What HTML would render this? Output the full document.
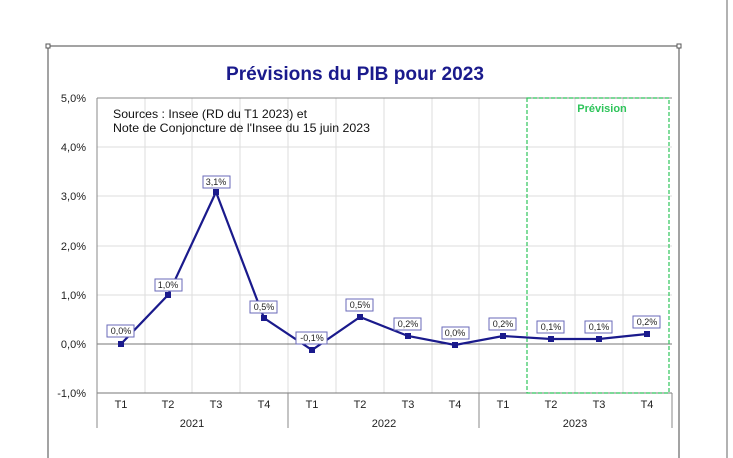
<!DOCTYPE html><html><head><style>body{margin:0;background:#fff}svg{display:block;font-family:"Liberation Sans",sans-serif}</style></head><body>
<svg width="733" height="458" viewBox="0 0 733 458">
<rect x="0" y="0" width="733" height="458" fill="#fff"/>
<line x1="727" y1="0" x2="727" y2="458" stroke="#999" stroke-width="1.5"/>
<rect x="48" y="46" width="631" height="420" fill="none" stroke="#666" stroke-width="1.2"/>
<rect x="46" y="44" width="4" height="4" fill="#fff" stroke="#555"/>
<rect x="677" y="44" width="4" height="4" fill="#fff" stroke="#555"/>
<text x="355" y="80" text-anchor="middle" font-size="19" font-weight="bold" fill="#1a1a8c" textLength="258" lengthAdjust="spacingAndGlyphs">Prévisions du PIB pour 2023</text>
<g stroke="#ddd" stroke-width="1">
<line x1="145" y1="98" x2="145" y2="393"/><line x1="192" y1="98" x2="192" y2="393"/><line x1="240" y1="98" x2="240" y2="393"/><line x1="288" y1="98" x2="288" y2="393"/><line x1="336" y1="98" x2="336" y2="393"/><line x1="384" y1="98" x2="384" y2="393"/><line x1="432" y1="98" x2="432" y2="393"/><line x1="479" y1="98" x2="479" y2="393"/><line x1="575" y1="98" x2="575" y2="393"/><line x1="623" y1="98" x2="623" y2="393"/>
<line x1="97" y1="147" x2="672" y2="147"/><line x1="97" y1="196" x2="672" y2="196"/><line x1="97" y1="246" x2="672" y2="246"/><line x1="97" y1="295" x2="672" y2="295"/>
</g>
<line x1="97" y1="98" x2="672" y2="98" stroke="#888"/>
<line x1="97" y1="344" x2="672" y2="344" stroke="#777"/>
<line x1="97" y1="393" x2="672" y2="393" stroke="#777"/>
<g stroke="#888"><line x1="97" y1="98" x2="97" y2="428"/><line x1="288" y1="393" x2="288" y2="428"/><line x1="479" y1="393" x2="479" y2="428"/><line x1="672" y1="393" x2="672" y2="428"/></g>
<rect x="527" y="98" width="142" height="295" fill="none" stroke="#2ec45a" stroke-width="1.2" stroke-dasharray="4,2"/>
<text x="602" y="112" text-anchor="middle" font-size="11" font-weight="bold" fill="#2ec45a">Prévision</text>
<g font-size="12" fill="#111"><text x="113" y="118" textLength="194" lengthAdjust="spacingAndGlyphs">Sources : Insee (RD du T1 2023) et</text><text x="113" y="132" textLength="257" lengthAdjust="spacingAndGlyphs">Note de Conjoncture de l'Insee du 15 juin 2023</text></g>
<g font-size="11" fill="#222" text-anchor="end"><text x="86" y="102">5,0%</text><text x="86" y="151">4,0%</text><text x="86" y="200">3,0%</text><text x="86" y="250">2,0%</text><text x="86" y="299">1,0%</text><text x="86" y="348">0,0%</text><text x="86" y="397">-1,0%</text></g>
<g font-size="11" fill="#222" text-anchor="middle">
<text x="121" y="408">T1</text><text x="168" y="408">T2</text><text x="216" y="408">T3</text><text x="264" y="408">T4</text><text x="312" y="408">T1</text><text x="360" y="408">T2</text><text x="408" y="408">T3</text><text x="455" y="408">T4</text><text x="503" y="408">T1</text><text x="551" y="408">T2</text><text x="599" y="408">T3</text><text x="647" y="408">T4</text>
<text x="192" y="427">2021</text><text x="384" y="427">2022</text><text x="575" y="427">2023</text></g>
<polyline fill="none" stroke="#1a1a8c" stroke-width="2.2" points="121,344 168,295 216,192 264,318 312,350 360,317 408,336 455,345 503,336 551,339 599,339 647,334"/>
<g fill="#1a1a8c"><rect x="118" y="341" width="6" height="6"/><rect x="165" y="292" width="6" height="6"/><rect x="213" y="189" width="6" height="6"/><rect x="261" y="315" width="6" height="6"/><rect x="309" y="347" width="6" height="6"/><rect x="357" y="314" width="6" height="6"/><rect x="405" y="333" width="6" height="6"/><rect x="452" y="342" width="6" height="6"/><rect x="500" y="333" width="6" height="6"/><rect x="548" y="336" width="6" height="6"/><rect x="596" y="336" width="6" height="6"/><rect x="644" y="331" width="6" height="6"/></g>
<g font-size="9" fill="#222" text-anchor="middle">
<g fill="#fff" stroke="#6a6ab8" stroke-width="1">
<rect x="107" y="325" width="27" height="12"/><rect x="155" y="279" width="27" height="12"/><rect x="203" y="176" width="27" height="12"/><rect x="250" y="301" width="27" height="12"/><rect x="296" y="332" width="31" height="12"/><rect x="346" y="299" width="27" height="12"/><rect x="394" y="318" width="27" height="12"/><rect x="442" y="327" width="27" height="12"/><rect x="489" y="318" width="27" height="12"/><rect x="537" y="321" width="27" height="12"/><rect x="585" y="321" width="27" height="12"/><rect x="633" y="316" width="27" height="12"/></g>
<text x="121" y="334">0,0%</text><text x="168" y="288">1,0%</text><text x="216" y="185">3,1%</text><text x="264" y="310">0,5%</text><text x="312" y="341">-0,1%</text><text x="360" y="308">0,5%</text><text x="408" y="327">0,2%</text><text x="455" y="336">0,0%</text><text x="503" y="327">0,2%</text><text x="551" y="330">0,1%</text><text x="599" y="330">0,1%</text><text x="647" y="325">0,2%</text></g>
</svg></body></html>
